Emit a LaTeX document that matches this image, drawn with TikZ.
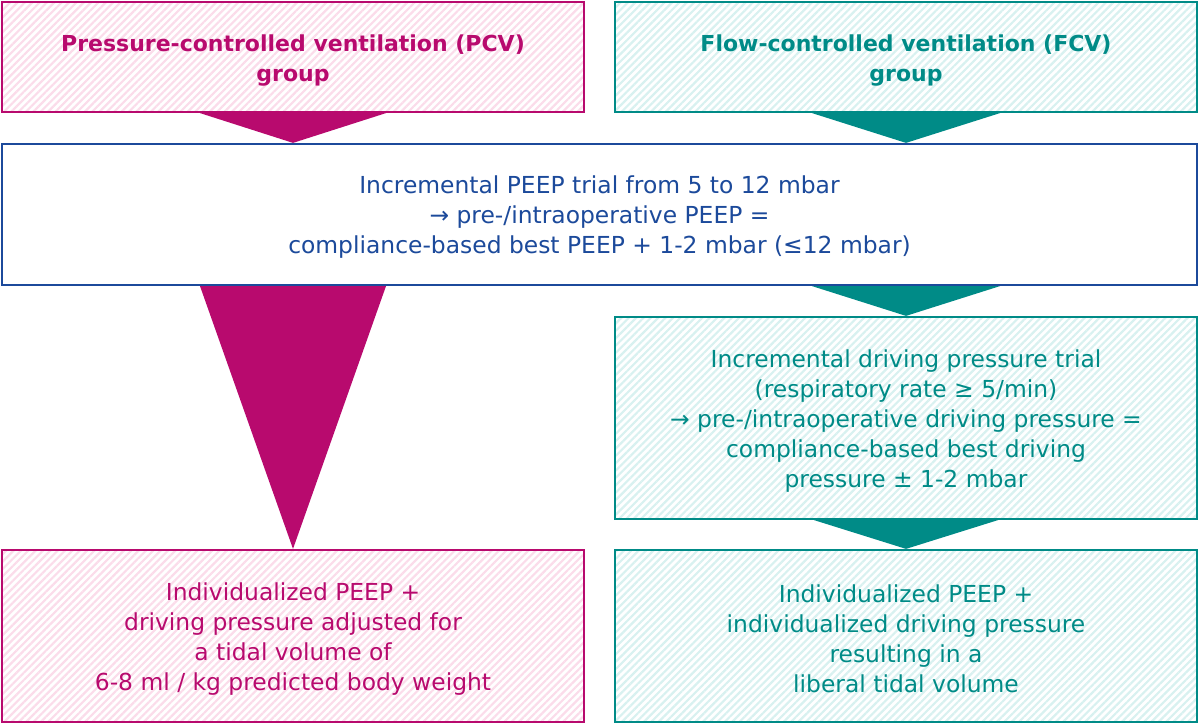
\documentclass[tikz,border=0pt]{standalone}
\usepackage{fontspec}
\setmainfont{DejaVu Sans}
\usetikzlibrary{patterns.meta,calc}

\definecolor{pcvmag}{RGB}{184,10,110}
\definecolor{fcvteal}{RGB}{0,139,135}
\definecolor{peepblue}{RGB}{28,74,155}
\definecolor{pcvhatch}{RGB}{251,220,234}
\definecolor{fcvhatch}{RGB}{216,241,240}

\begin{document}
\begin{tikzpicture}[x=0.5pt,y=-0.5pt]
  \tikzstyle{box}=[rectangle,line width=1.1pt,inner sep=0pt]
  \tikzstyle{pcvbox}=[box,draw=pcvmag,minimum width=291pt,pattern={Lines[angle=45,distance=2.6pt,line width=1.1pt]},pattern color=pcvhatch]
  \tikzstyle{fcvbox}=[box,draw=fcvteal,minimum width=291pt,pattern={Lines[angle=45,distance=2.6pt,line width=1.1pt]},pattern color=fcvhatch]
  \tikzstyle{txt}=[align=center,inner sep=0pt,font=\fontsize{11.7}{15}\selectfont]
  \tikzstyle{head}=[txt,font=\fontsize{11}{15}\selectfont\bfseries]

  \useasboundingbox (0,0) rectangle (1200,726);

  % group boxes
  \node[pcvbox,minimum height=55pt] (pcv) at (293,57) {};
  \node[fcvbox,minimum height=55pt] (fcv) at (906,57) {};
  \node[head,text=pcvmag] (pcvt) at ($(pcv.center)+(0,4)$) {Pressure-controlled ventilation (PCV)\\group};
  \node[head,text=fcvteal] (fcvt) at ($(fcv.center)+(0,4)$) {Flow-controlled ventilation (FCV)\\group};

  % common PEEP trial
  \node[box,draw=peepblue,fill=white,minimum width=597.5pt,minimum height=70.5pt] (peep) at (599.5,214.5) {};
  \node[txt,text=peepblue] (peept) at ($(peep.center)+(0,3)$)
    {Incremental PEEP trial from 5 to 12 mbar\\→ pre-/intraoperative PEEP =\\compliance-based best PEEP + 1-2 mbar (≤12 mbar)};

  \node[fcvbox,minimum height=101pt] (fdp) at (906,418) {};
  \node[txt,text=fcvteal] (fdpt) at ($(fdp.center)+(0,3)$)
    {Incremental driving pressure trial\\(respiratory rate ≥ 5/min)\\→ pre-/intraoperative driving pressure =\\compliance-based best driving\\pressure ± 1-2 mbar};

  % outcomes
  \node[pcvbox,minimum height=86pt] (pind) at (293,636) {};
  \node[fcvbox,minimum height=86pt] (find) at (906,636) {};
  \node[txt,text=pcvmag] (pindt) at ($(pind.center)+(0,3)$)
    {Individualized PEEP +\\driving pressure adjusted for\\a tidal volume of\\6-8 ml / kg predicted body weight};
  \node[txt,text=fcvteal] (findt) at ($(find.center)+(0,3)$)
    {Individualized PEEP +\\individualized driving pressure\\resulting in a\\liberal tidal volume};

  % arrow wedges
  \fill[pcvmag] ($(pcv.south)+(-93,0)$) -- ($(pcv.south)+(93,0)$) -- (pcv.south |- peep.north) -- cycle;
  \fill[fcvteal] ($(fcv.south)+(-94,0)$) -- ($(fcv.south)+(94,0)$) -- (fcv.south |- peep.north) -- cycle;
  \fill[pcvmag] ($(pcv.south |- peep.south)+(-93,0)$) -- ($(pcv.south |- peep.south)+(93,0)$) -- (pind.north) -- cycle;
  \fill[fcvteal] ($(fcv.south |- peep.south)+(-94,0)$) -- ($(fcv.south |- peep.south)+(94,0)$) -- (fdp.north) -- cycle;
  \fill[fcvteal] ($(fdp.south)+(-92,0)$) -- ($(fdp.south)+(92,0)$) -- (find.north) -- cycle;

\end{tikzpicture}
\end{document}
